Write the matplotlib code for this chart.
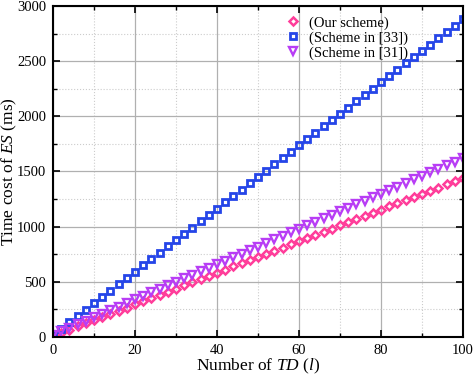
import matplotlib
matplotlib.use("Agg")
import matplotlib.pyplot as plt
from matplotlib.ticker import MultipleLocator

plt.rcParams['font.family'] = ['Liberation Serif', 'DejaVu Serif']
plt.rcParams['mathtext.fontset'] = 'custom'
plt.rcParams['mathtext.rm'] = 'Liberation Serif'
plt.rcParams['mathtext.it'] = 'Liberation Serif:italic'

x = list(range(0, 101, 2))
ours = [10, 39, 67, 96, 124, 153, 182, 210, 239, 267, 296, 325, 353, 382, 410, 439, 468, 496,
        525, 553, 582, 611, 639, 668, 696, 725, 754, 782, 811, 839, 868, 897, 925, 954, 982,
        1011, 1040, 1068, 1097, 1125, 1154, 1183, 1211, 1240, 1268, 1297, 1326, 1354, 1383,
        1411, 1440]
scheme33 = [20, 77, 134, 192, 249, 306, 363, 420, 478, 535, 592, 649, 706, 764, 821, 878, 935,
            992, 1050, 1107, 1164, 1221, 1278, 1336, 1393, 1450, 1507, 1564, 1622, 1679, 1736,
            1793, 1850, 1908, 1965, 2022, 2079, 2136, 2194, 2251, 2308, 2365, 2422, 2480, 2537,
            2594, 2651, 2708, 2766, 2823, 2880]
scheme31 = [20, 52, 84, 116, 148, 180, 212, 244, 276, 308, 340, 372, 404, 436, 468, 500, 532,
            564, 596, 628, 660, 692, 724, 756, 788, 820, 852, 884, 916, 948, 980, 1012, 1044,
            1076, 1108, 1140, 1172, 1204, 1236, 1268, 1300, 1332, 1364, 1396, 1428, 1460, 1492,
            1524, 1556, 1588, 1620]
labels = ['(Our scheme)', '(Scheme in [33])', '(Scheme in [31])']

fig = plt.figure(figsize=(4.74, 3.75), dpi=100)
ax = fig.add_axes([53/474, 1-337/375, 410/474, 331/375])

ax.plot(x, ours, linestyle='none', marker='D', markersize=4.5, markerfacecolor='none',
        markeredgecolor='#FF3D9A', markeredgewidth=1.8, label=labels[0])
ax.plot(x, scheme33, linestyle='none', marker='s', markersize=4.8, markerfacecolor='none',
        markeredgecolor='#2545E8', markeredgewidth=2.0, label=labels[1])
ax.plot(x, scheme31, linestyle='none', marker='v', markersize=6, markerfacecolor='none',
        markeredgecolor='#B83DF5', markeredgewidth=1.7, label=labels[2])

ax.set_xlim(0, 100)
ax.set_ylim(0, 3000)
ax.xaxis.set_major_locator(MultipleLocator(20))
ax.xaxis.set_minor_locator(MultipleLocator(10))
ax.yaxis.set_major_locator(MultipleLocator(500))
ax.yaxis.set_minor_locator(MultipleLocator(250))
ax.grid(which='major', color='#b0b0b0', linewidth=0.9)
ax.grid(which='minor', color='#cccccc', linestyle=':', linewidth=0.8)
ax.set_axisbelow(True)
ax.tick_params(which='both', direction='in', top=True, right=True, labelsize=10.5, pad=5)
ax.tick_params(which='major', length=5, width=1.2)
ax.tick_params(which='minor', length=3, width=1.0)
for s in ax.spines.values():
    s.set_linewidth(1.5)

ax.set_xlabel('Number of $\\mathit{TD}$ ($\\mathit{l}$)', fontsize=12.5)
ax.xaxis.label.set_va('baseline')
ax.xaxis.set_label_coords(0.5, -0.1)
ax.set_ylabel('Time cost of $\\mathit{ES}$ (ms)', fontsize=12.5)
ax.yaxis.set_label_coords(-0.082, 0.5)

ax.legend(loc='upper left', bbox_to_anchor=(0.542, 1.0), frameon=False, fontsize=10.5,
          handletextpad=0.6, labelspacing=0.1, handlelength=1.0, borderpad=0.2,
          borderaxespad=0.5)

fig.savefig('out.png', dpi=100)
